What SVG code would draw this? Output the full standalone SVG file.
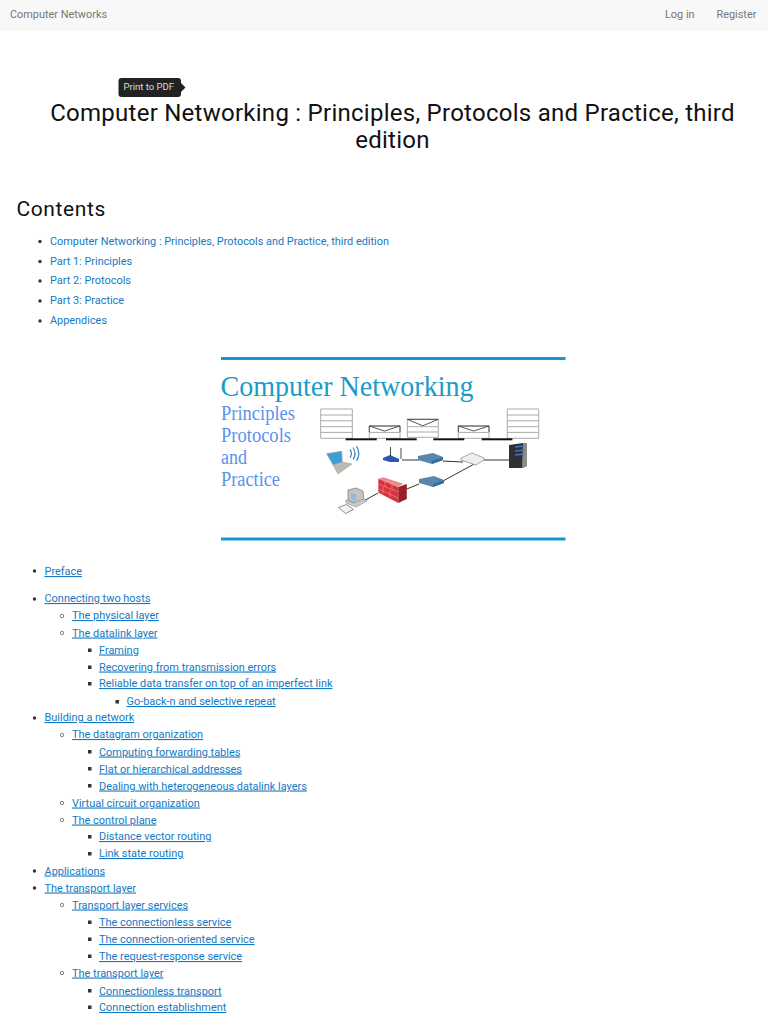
<svg xmlns="http://www.w3.org/2000/svg" width="768" height="1024" viewBox="0 0 768 1024">
<style>
text{font-family:Roboto,"Liberation Sans",sans-serif}
.nav{font-size:10.900px;fill:#777}
.h1{font-size:24px;fill:#111;letter-spacing:.26px}
.c{font-size:10.900px;fill:#1479c4}
.l{font-size:10.950px;fill:#1479c4;text-decoration:underline}
.b1{fill:#333}
.b2{fill:#fff;stroke:#666;stroke-width:.8}
.b3{fill:#333}
.serif{font-family:"Liberation Serif",serif}
.sub{font-size:20px;fill:#5a92ef}
.g{fill:#fff;stroke:#aaa;stroke-width:1}
.env{fill:none;stroke:#444;stroke-width:.9}
.bar{fill:#111}
.wire{stroke:#333;stroke-width:1;fill:none}
.sw{fill:#5a86ad}
.swd{fill:#2f6f9f}
</style>
<rect width="768" height="1024" fill="#fff"/>
<rect width="768" height="31" fill="#f8f8f8"/>
<text class="nav" x="10" y="18">Computer Networks</text>
<text class="nav" x="665" y="18">Log in</text>
<text class="nav" x="716.500" y="18">Register</text>
<g id="tooltip">
<rect x="118.500" y="78" width="62.500" height="19" rx="3" fill="#222"/>
<path d="M181 83l4.500 4.500l-4.500 4.500z" fill="#222"/>
<text x="123.500" y="90" font-size="9.500" fill="#ddd">Print to PDF</text>
</g>
<text class="h1" x="392.500" y="121" text-anchor="middle">Computer Networking : Principles, Protocols and Practice, third</text>
<text class="h1" x="392.500" y="148" text-anchor="middle">edition</text>
<text x="16.500" y="216" font-size="21px" letter-spacing=".6" fill="#111">Contents</text>
<g id="contents">
<circle class="b1" cx="40" cy="241.500" r="1.700"/><text class="c" x="50" y="245">Computer Networking : Principles, Protocols and Practice, third edition</text>
<circle class="b1" cx="40" cy="261.500" r="1.700"/><text class="c" x="50" y="265">Part 1: Principles</text>
<circle class="b1" cx="40" cy="281" r="1.700"/><text class="c" x="50" y="284">Part 2: Protocols</text>
<circle class="b1" cx="40" cy="301" r="1.700"/><text class="c" x="50" y="304">Part 3: Practice</text>
<circle class="b1" cx="40" cy="321" r="1.700"/><text class="c" x="50" y="324">Appendices</text>
</g>
<g id="cover">
<rect x="221" y="357" width="344.500" height="3" fill="#139ccb"/>
<rect x="221" y="537.500" width="344.500" height="3" fill="#139ccb"/>
<text class="serif" x="220.500" y="396" font-size="29.500px" fill="#1a9cc9" textLength="253" lengthAdjust="spacingAndGlyphs">Computer Networking</text>
<text class="serif sub" x="221" y="420" textLength="74" lengthAdjust="spacingAndGlyphs">Principles</text>
<text class="serif sub" x="221" y="442" textLength="70" lengthAdjust="spacingAndGlyphs">Protocols</text>
<text class="serif sub" x="221" y="464" textLength="26" lengthAdjust="spacingAndGlyphs">and</text>
<text class="serif sub" x="221" y="486" textLength="59" lengthAdjust="spacingAndGlyphs">Practice</text>
<path class="g" d="M320.700 409h31.600v29.300h-31.600zM320.700 415h31.600M320.700 420.800h31.600M320.700 426.700h31.600M320.700 432.400h31.600"/>
<path class="g" d="M507.300 409h31.400v29.300h-31.400zM507.300 415h31.400M507.300 420.800h31.400M507.300 426.700h31.400M507.300 432.400h31.400"/>
<path class="g" d="M369.300 426h30.700v12.300h-30.700zM369.300 432.400h30.700"/>
<path class="g" d="M407.300 419.300h31v18h-31zM407.300 426.700h31M407.300 432h31"/>
<path class="g" d="M458.300 426h30.700v12.300h-30.700zM458.300 432.400h30.700"/>
<path class="env" d="M369.300 426l15.300 5l15.400-5M369.300 426v6M400 426v6M369.300 426h30.700"/>
<path class="env" d="M407.300 419.300l15.500 6.500l15.500-6.500M407.300 419.300h31"/>
<path class="env" d="M458.300 426l15.300 5l15.400-5M458.300 426v6M489 426v6M458.300 426h30.700"/>
<rect class="bar" x="345.700" y="438.300" width="31" height="2"/>
<rect class="bar" x="386" y="438.300" width="30.700" height="2"/>
<rect class="bar" x="433.300" y="438.300" width="31" height="2"/>
<rect class="bar" x="481.700" y="438.300" width="30.700" height="2"/>
<path class="wire" d="M402 460h17M443 461l20 1M484 460h25M476 463l-33 18M419 484l-17 7M378 493l-18 10"/>
<!-- laptop -->
<path d="M326.700 453.700l15-2.400l.5 10.700l-9 3z" fill="#3a9fd8" stroke="#999" stroke-width=".8"/>
<path d="M333 465l9-3l10 2l-14 10z" fill="#bdb9b4" stroke="#999" stroke-width=".5"/>
<path d="M350 449.500q3 4 0 8M353 447.500q4 6 0 12M356.500 446q4.500 8 0 15" fill="none" stroke="#4a8ab8" stroke-width="1.300"/>
<!-- wifi router -->
<path d="M383 458l7-3l9 4v3l-9 0l-7-2z" fill="#2a55b0"/>
<path d="M390.500 456v-9M401 459v-11" stroke="#333" stroke-width=".9"/>
<!-- switches -->
<path d="M418 456l15-3l10 4v3l-11 4l-14-4z" class="sw"/>
<path d="M432 464l11-4v-3l-11 4z" class="swd"/>
<path d="M419 479l15-3l10 4v3l-11 4l-14-4z" class="sw"/>
<path d="M433 487l11-4v-3l-11 4z" class="swd"/>
<!-- hub -->
<path d="M461 458l11-5l12 5v2l-8 5l-15-5z" fill="#eee" stroke="#888" stroke-width=".7"/>
<!-- server -->
<path d="M509 445l14-2h4v23l-5 2h-13z" fill="#2d3136"/>
<path d="M523 443h4v23l-5 2z" fill="#8b8b8b"/>
<path d="M515 447l9-1M515 451l9-1M515 455l9-1" stroke="#3f78b5" stroke-width="1.300"/>
<!-- firewall -->
<path d="M378.300 478.700l5-1.500l20 6.500l-5 3z" fill="#e98b8d"/>
<path d="M378.300 478.700l20 8.300v16l-20-10.500z" fill="#d8343c"/>
<path d="M398.300 487l8.500-3v15l-8.500 4z" fill="#9c1f26"/>
<path d="M378.300 484l20 8M378.300 489l20 9M385 481v6M392 484v6M383 487v6M390 491v6" stroke="#f3a5a5" stroke-width=".5" fill="none"/>
<!-- computer -->
<path d="M348 490l8-2l7 3l1 10l-8 3l-8-4z" fill="#c4c4c4" stroke="#666" stroke-width=".6"/>
<path d="M351 493l5 1.500v7l-5-2z" fill="#8fbbe0"/>
<path d="M346 503l10 4l11-6l-3-2l-10 4l-8-3z" fill="#ccc" stroke="#777" stroke-width=".5"/>
<path d="M338.500 507.500l8-3l7 5l-8 4z" fill="#f2f2f2" stroke="#666" stroke-width=".7"/>
</g>
<g id="toc">
<circle class="b1" cx="34.500" cy="571" r="1.700"/><text class="l" x="44.500" y="575">Preface</text>
<circle class="b1" cx="34.500" cy="599" r="1.700"/><text class="l" x="44.500" y="602">Connecting two hosts</text>
<circle class="b2" cx="62" cy="616" r="1.700"/><text class="l" x="72" y="619">The physical layer</text>
<circle class="b2" cx="62" cy="633" r="1.700"/><text class="l" x="72" y="636.500">The datalink layer</text>
<rect class="b3" x="88" y="648.500" width="3.500" height="3.500"/><text class="l" x="99" y="653.500">Framing</text>
<rect class="b3" x="88" y="665.500" width="3.500" height="3.500"/><text class="l" x="99" y="670.500">Recovering from transmission errors</text>
<rect class="b3" x="88" y="682" width="3.500" height="3.500"/><text class="l" x="99" y="687">Reliable data transfer on top of an imperfect link</text>
<rect class="b3" x="115.500" y="700" width="3.500" height="3.500"/><text class="l" x="126.500" y="705">Go-back-n and selective repeat</text>
<circle class="b1" cx="34.500" cy="718" r="1.700"/><text class="l" x="44.500" y="721">Building a network</text>
<circle class="b2" cx="62" cy="735" r="1.700"/><text class="l" x="72" y="738">The datagram organization</text>
<rect class="b3" x="88" y="750" width="3.500" height="3.500"/><text class="l" x="99" y="755.500">Computing forwarding tables</text>
<rect class="b3" x="88" y="767" width="3.500" height="3.500"/><text class="l" x="99" y="772.500">Flat or hierarchical addresses</text>
<rect class="b3" x="88" y="784" width="3.500" height="3.500"/><text class="l" x="99" y="789.500">Dealing with heterogeneous datalink layers</text>
<circle class="b2" cx="62" cy="803" r="1.700"/><text class="l" x="72" y="806.500">Virtual circuit organization</text>
<circle class="b2" cx="62" cy="820" r="1.700"/><text class="l" x="72" y="823.500">The control plane</text>
<rect class="b3" x="88" y="835" width="3.500" height="3.500"/><text class="l" x="99" y="840">Distance vector routing</text>
<rect class="b3" x="88" y="852" width="3.500" height="3.500"/><text class="l" x="99" y="857">Link state routing</text>
<circle class="b1" cx="34.500" cy="871" r="1.700"/><text class="l" x="44.500" y="874.500">Applications</text>
<circle class="b1" cx="34.500" cy="888" r="1.700"/><text class="l" x="44.500" y="891.500">The transport layer</text>
<circle class="b2" cx="62" cy="905" r="1.700"/><text class="l" x="72" y="908.500">Transport layer services</text>
<rect class="b3" x="88" y="920.500" width="3.500" height="3.500"/><text class="l" x="99" y="926">The connectionless service</text>
<rect class="b3" x="88" y="937.500" width="3.500" height="3.500"/><text class="l" x="99" y="943">The connection-oriented service</text>
<rect class="b3" x="88" y="954.500" width="3.500" height="3.500"/><text class="l" x="99" y="960">The request-response service</text>
<circle class="b2" cx="62" cy="973" r="1.700"/><text class="l" x="72" y="976.500">The transport layer</text>
<rect class="b3" x="88" y="989" width="3.500" height="3.500"/><text class="l" x="99" y="994.500">Connectionless transport</text>
<rect class="b3" x="88" y="1005.500" width="3.500" height="3.500"/><text class="l" x="99" y="1011">Connection establishment</text>
</g>
</svg>
